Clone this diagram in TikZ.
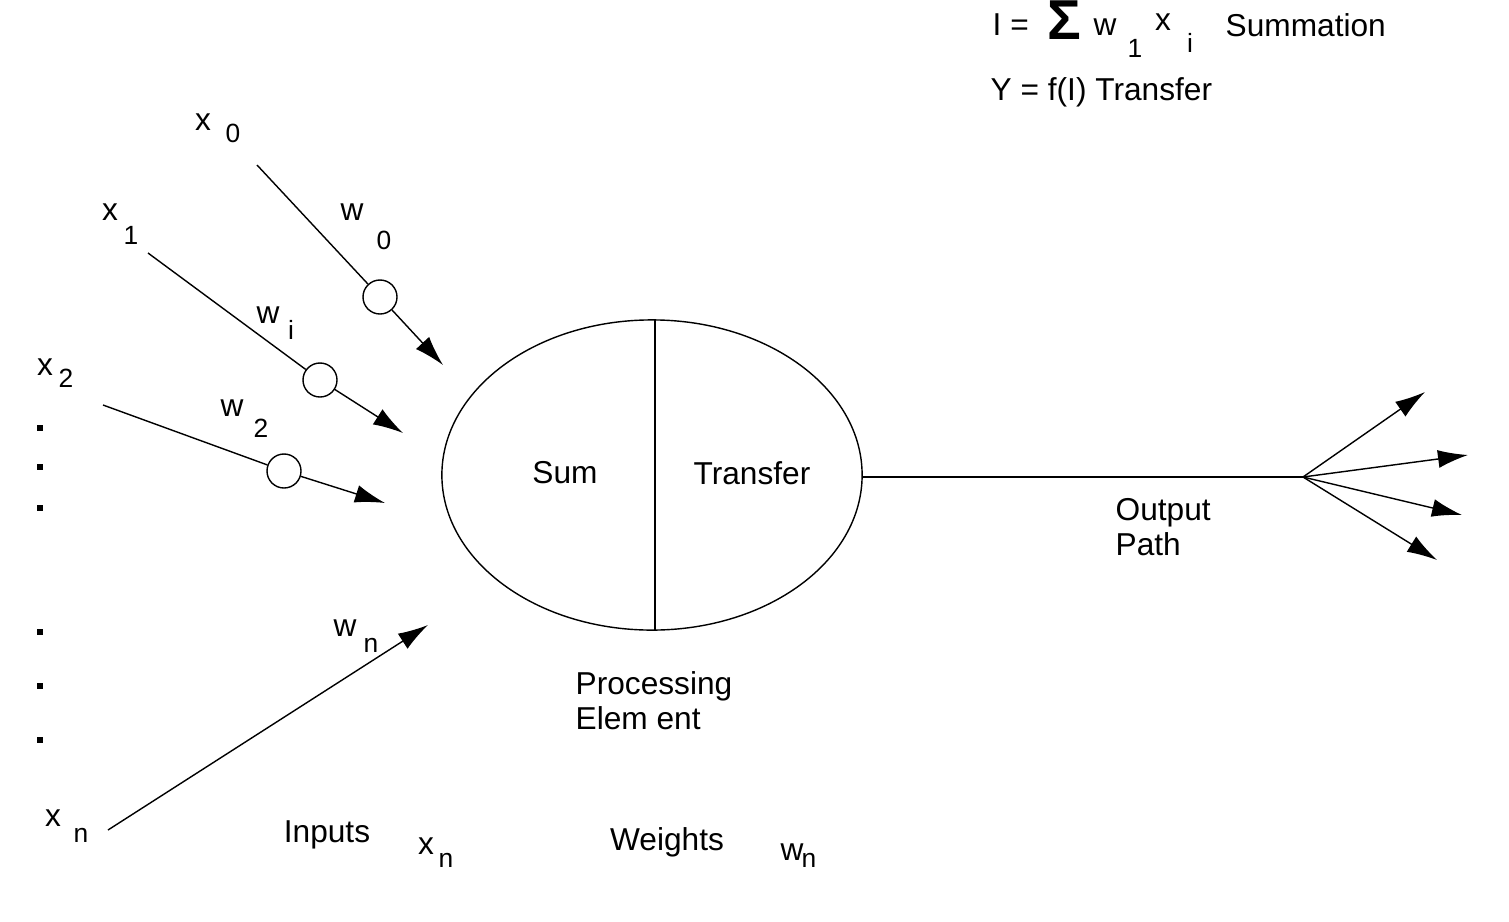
\documentclass[tikz,border=0pt]{standalone}
\usepackage{fontspec}
\setmainfont{Liberation Sans}
\usetikzlibrary{arrows.meta,shapes.geometric}
\begin{document}
\begin{tikzpicture}[x=0.01cm,y=-0.01cm,font=\fontsize{9}{11}\selectfont,
  wc/.style={draw,circle,minimum size=0.34cm,inner sep=0pt},
  ar/.style={-{Latex[length=0.3cm,width=0.18cm]}},
  lb/.style={inner sep=0pt},
  sb/.style={inner sep=0pt,font=\fontsize{7.5}{9}\selectfont},
  dot/.style={fill,minimum size=0.06cm,inner sep=0pt}]
\useasboundingbox (0,0) rectangle (1509,921);
\node[draw,ellipse,minimum width=4.2cm,minimum height=3.1cm,inner sep=0pt] (pe) at (652,475) {};
\coordinate (vt) at (655,320); \coordinate (vb) at (655,630);
\draw (vt) -- (vb);
\node[lb] (sum) at (565,473) {Sum};
\node[lb] (tr) at (752,473) {Transfer};
\coordinate (o1) at (862,477); \coordinate (o2) at (1303,477);
\draw (o1) -- (o2);
\coordinate (ta) at (1425,392);
\coordinate (tb) at (1468,455);
\coordinate (tc) at (1462,515);
\coordinate (td) at (1437,560);
\draw[ar] (o2) -- (ta);
\draw[ar] (o2) -- (tb);
\draw[ar] (o2) -- (tc);
\draw[ar] (o2) -- (td);
\node[lb,align=left,anchor=west] (op) at (1115,527) {Output\\[-1pt]Path};
\node[lb,align=left,anchor=west] (pel) at (575,701) {Processing\\[-1pt]Elem ent};
% inputs
\coordinate (s0) at (257,165); \node[wc] (c0) at (380,297) {}; \coordinate (e0) at (443,365);
\coordinate (s1) at (148,253); \node[wc] (c1) at (320,380) {}; \coordinate (e1) at (403,433);
\coordinate (s2) at (103,405); \node[wc] (c2) at (284,471) {}; \coordinate (e2) at (385,503);
\foreach \i in {0,1,2}{\draw (s\i) -- (c\i); \draw[ar] (c\i) -- (e\i);}
\coordinate (sn) at (108,830); \coordinate (en) at (428,625);
\draw[ar] (sn) -- (en);
% labels
\node[lb] (x0) at (203,122) {x}; \node[sb] at (233,133) {0};
\node[lb] (w0) at (352,212) {w}; \node[sb] at (384,240) {0};
\node[lb] (x1) at (110,212) {x}; \node[sb] at (131,235) {1};
\node[lb] (wi) at (268,315) {w}; \node[sb] at (291,330) {i};
\node[lb] (x2) at (45,367) {x}; \node[sb] at (66,378) {2};
\node[lb] (w2) at (232,408) {w}; \node[sb] at (261,428) {2};
\node[lb] (wn) at (345,628) {w}; \node[sb] at (371,645) {n};
\node[lb] (xn) at (53,818) {x}; \node[sb] at (81,835) {n};
\foreach \y [count=\k] in {428,467,508,632,686,740}{\node[dot] (d\k) at (40,\y) {};}
\node[lb] (inp) at (327,835) {Inputs};
\node[lb] (ixn) at (426,846) {x}; \node[sb] at (446,860) {n};
\node[lb] (wts) at (667,842) {Weights};
\node[lb] (iwn) at (792,852) {w}; \node[sb] at (809,860) {n};
% formulas
\node[lb,anchor=west] (f1) at (992,25) {I =};
\node[lb] (sig) at (1064,20) {\fontsize{16}{16}\selectfont\textbf{Σ}};
\node[lb] at (1105,27) {w};
\node[sb] at (1135,48) {1};
\node[lb] at (1163,22) {x}; \node[sb] at (1190,43) {i};
\node[lb,anchor=west] (summ) at (1225,25) {Summation};
\node[lb,anchor=west] (f2) at (990,92) {Y = f(I) Transfer};
\end{tikzpicture}
\end{document}
